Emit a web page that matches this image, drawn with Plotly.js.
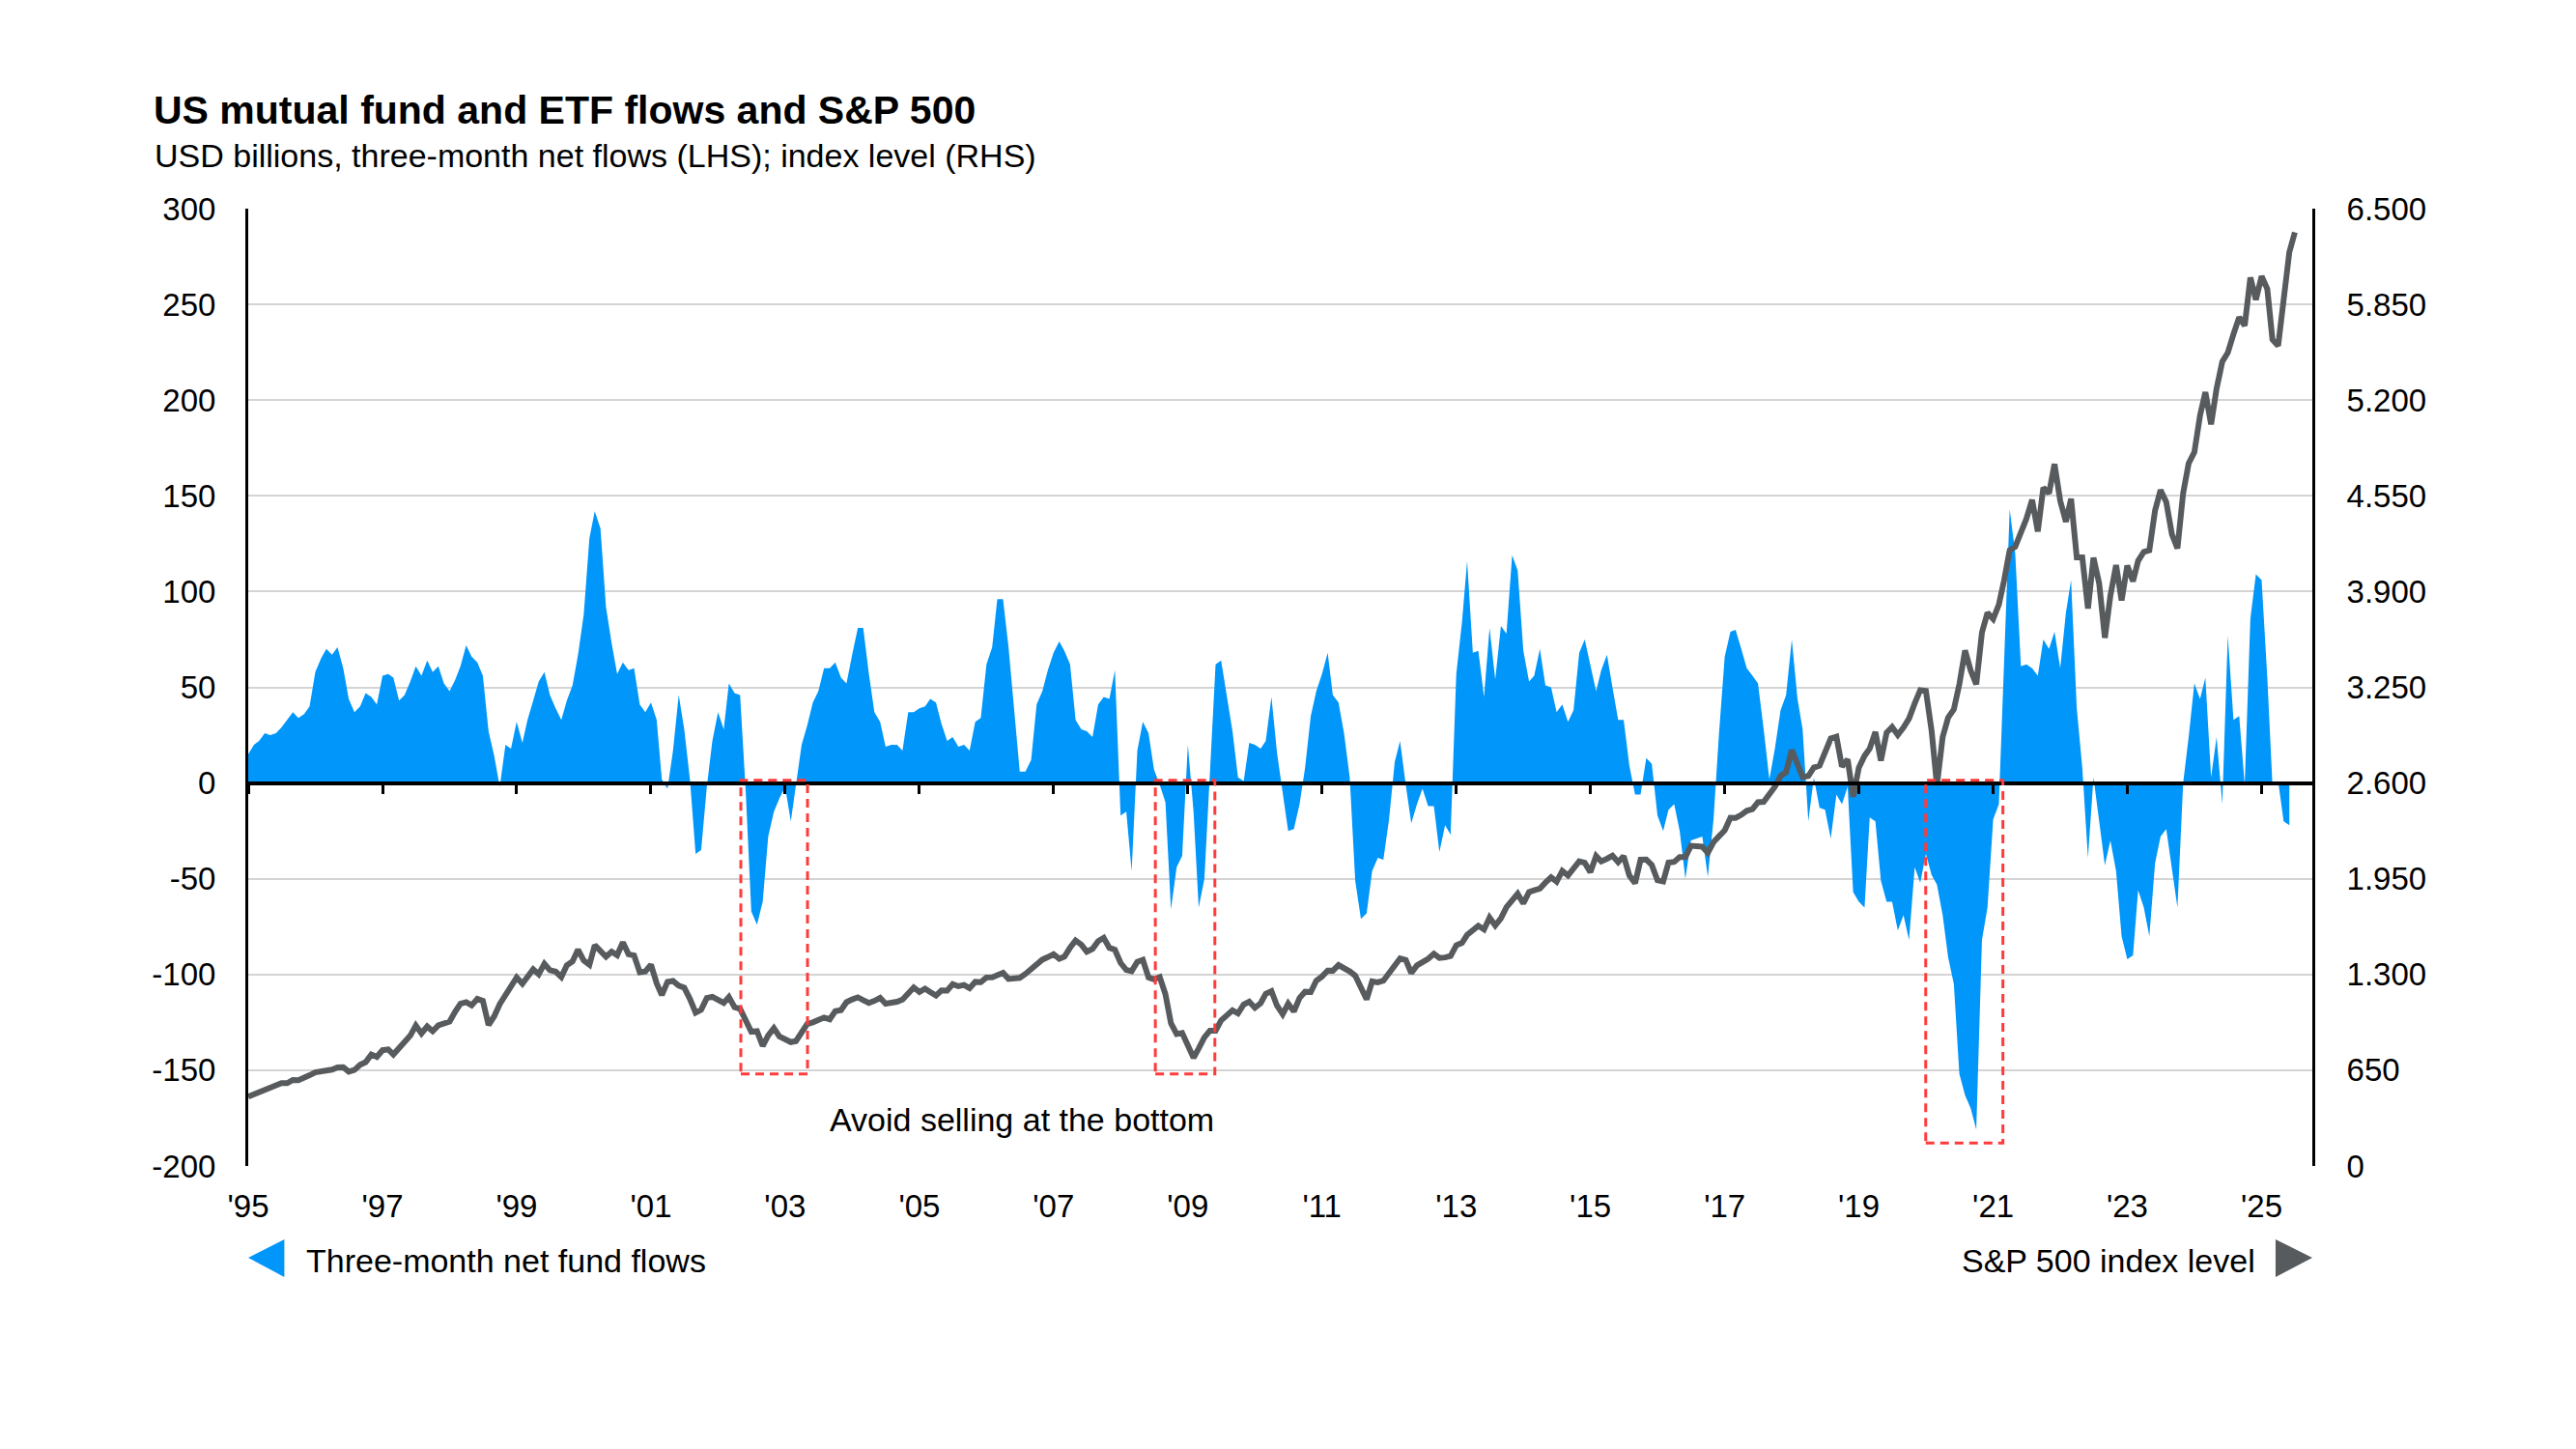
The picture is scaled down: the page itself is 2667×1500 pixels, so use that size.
<!DOCTYPE html>
<html>
<head>
<meta charset="utf-8">
<script src="https://cdn.plot.ly/plotly-3.0.1.min.js"></script>
<style>
  html, body { margin: 0; padding: 0; background: #fff; }
  #chart { width: 2667px; height: 1500px; }
</style>
</head>
<body>
<div id="chart"></div>
<script>
// monthly series, first value = January 1995
const startYear = 1995;

// three-month net fund flows, USD bn (LHS)
const netFlows = [
  15, 20, 22, 26, 25, 26, 29, 33, 37, 34, 36, 40,          // 1995
  58, 65, 70, 67, 71, 60, 44, 37, 40, 47, 45, 41,          // 1996
  56, 57, 55, 43, 46, 53, 61, 56, 64, 58, 61, 52,          // 1997
  48, 54, 61, 72, 66, 63, 56, 27, 14, -2, 20, 18,          // 1998
  32, 21, 33, 43, 53, 58, 46, 39, 33, 43, 51, 67,          // 1999
  88, 128, 142, 133, 92, 73, 57, 63, 59, 60, 41, 37,       // 2000
  42, 33, 2, -3, 17, 46, 28, 2, -37, -35, -2, 22,          // 2001
  37, 28, 52, 47, 46, -5, -67, -74, -62, -28, -15, -8,     // 2002
  -2, -20, -2, 20, 30, 42, 48, 60, 60, 63, 55, 52,         // 2003
  67, 81, 81, 57, 37, 32, 19, 20, 20, 17, 37, 37,          // 2004
  39, 40, 44, 42, 31, 22, 24, 19, 20, 17, 32, 34,          // 2005
  62, 71, 96, 96, 71, 37, 6, 6, 12, 41, 48, 59,            // 2006
  68, 74, 69, 62, 33, 28, 27, 24, 41, 45, 44, 59,          // 2007
  -17, -15, -46, 17, 32, 26, 7, -1, -10, -66, -44, -38,    // 2008
  20, -15, -65, -50, 5, 62, 64, 46, 27, 3, 1, 21,          // 2009
  20, 18, 22, 45, 16, -5, -25, -24, -11, 8, 35, 48,        // 2010
  57, 68, 46, 42, 26, 3, -51, -71, -68, -46, -39, -40,     // 2011
  -19, 11, 22, -1, -21, -11, -3, -12, -12, -36, -22, -27,  // 2012
  57, 84, 116, 68, 69, 45, 81, 54, 82, 78, 119, 111,       // 2013
  69, 53, 56, 70, 51, 50, 37, 41, 32, 38, 68, 75,          // 2014
  62, 48, 59, 67, 50, 33, 33, 9, -6, -6, 13, 10,           // 2015
  -17, -25, -14, -11, -25, -50, -30, -29, -28, -49, -19, 26, // 2016
  66, 79, 80, 70, 60, 56, 52, 28, 2, 18, 38, 46,           // 2017
  75, 44, 28, -20, 3, -13, -14, -29, -6, -11, -2, -57,     // 2018
  -62, -65, -18, -20, -51, -62, -62, -77, -69, -82, -44, -52, // 2019
  -37, -48, -53, -69, -91, -105, -152, -163, -170, -181, -82, -65, // 2020
  -19, -11, 66, 143, 120, 61, 62, 60, 56, 75, 70, 79,      // 2021
  60, 89, 106, 39, 8, -39, 3, -21, -43, -30, -46, -80,     // 2022
  -92, -90, -56, -65, -80, -42, -28, -24, -44, -65, 0, 24, // 2023
  52, 44, 55, 3, 24, -11, 77, 33, 35, -1, 86, 109,         // 2024
  106, 55, -1, 1, -20, -22                                 // 2025
];

// S&P 500 index level, month end (RHS)
const spx = [
  470, 487, 501, 515, 533, 545, 562, 562, 584, 582, 605, 616,           // 1995
  636, 640, 646, 654, 669, 671, 640, 652, 687, 705, 757, 741,           // 1996
  786, 791, 757, 801, 848, 885, 954, 900, 947, 915, 955, 970,           // 1997
  980, 1049, 1102, 1112, 1091, 1134, 1121, 957, 1017, 1099, 1164, 1229, // 1998
  1280, 1238, 1286, 1335, 1302, 1373, 1329, 1320, 1283, 1363, 1389, 1469, // 1999
  1395, 1366, 1499, 1452, 1421, 1455, 1431, 1518, 1437, 1429, 1315, 1320, // 2000
  1366, 1240, 1160, 1250, 1256, 1224, 1211, 1134, 1041, 1060, 1140, 1148, // 2001
  1130, 1107, 1147, 1077, 1067, 990, 912, 916, 815, 886, 936, 880,       // 2002
  856, 841, 848, 917, 964, 975, 990, 1008, 996, 1051, 1058, 1112,       // 2003
  1131, 1145, 1126, 1107, 1121, 1141, 1102, 1104, 1115, 1130, 1174, 1212, // 2004
  1181, 1204, 1181, 1157, 1192, 1191, 1234, 1220, 1229, 1207, 1250, 1248, // 2005
  1280, 1281, 1295, 1311, 1270, 1270, 1277, 1304, 1336, 1378, 1401, 1418, // 2006
  1438, 1407, 1421, 1482, 1531, 1503, 1455, 1474, 1527, 1549, 1481, 1468, // 2007
  1379, 1331, 1323, 1386, 1400, 1280, 1267, 1283, 1166, 969, 896, 903,   // 2008
  826, 735, 798, 873, 919, 919, 988, 1021, 1057, 1036, 1096, 1115,      // 2009
  1074, 1105, 1169, 1187, 1089, 1031, 1102, 1049, 1141, 1183, 1181, 1258, // 2010
  1286, 1327, 1326, 1364, 1345, 1321, 1292, 1219, 1131, 1253, 1247, 1258, // 2011
  1312, 1366, 1409, 1398, 1310, 1362, 1379, 1407, 1441, 1412, 1416, 1426, // 2012
  1498, 1515, 1569, 1598, 1631, 1606, 1686, 1633, 1682, 1757, 1806, 1848, // 2013
  1783, 1860, 1872, 1884, 1924, 1960, 1931, 2003, 1972, 2018, 2068, 2059, // 2014
  1995, 2105, 2068, 2086, 2107, 2063, 2104, 1972, 1920, 2079, 2080, 2044, // 2015
  1940, 1932, 2060, 2065, 2097, 2099, 2174, 2171, 2168, 2126, 2199, 2239, // 2016
  2279, 2364, 2363, 2384, 2412, 2423, 2470, 2472, 2519, 2575, 2648, 2674, // 2017
  2824, 2714, 2641, 2648, 2705, 2718, 2816, 2902, 2914, 2712, 2760, 2507, // 2018
  2704, 2785, 2834, 2946, 2752, 2942, 2980, 2927, 2977, 3038, 3141, 3231, // 2019
  3226, 2954, 2585, 2912, 3044, 3100, 3271, 3500, 3363, 3270, 3622, 3756, // 2020
  3714, 3811, 3973, 4181, 4204, 4298, 4395, 4523, 4308, 4605, 4567, 4766, // 2021
  4516, 4374, 4530, 4132, 4132, 3785, 4130, 3955, 3586, 3872, 4080, 3840, // 2022
  4077, 3970, 4109, 4170, 4180, 4450, 4589, 4508, 4288, 4194, 4568, 4770, // 2023
  4846, 5096, 5254, 5036, 5278, 5461, 5522, 5648, 5763, 5706, 6032, 5882, // 2024
  6041, 5955, 5612, 5569, 5912, 6205, 6339                                // 2025
];

const leftTicks = [-200, -150, -100, -50, 0, 50, 100, 150, 200, 250, 300];
const rightTicks = [0, 650, 1300, 1950, 2600, 3250, 3900, 4550, 5200, 5850, 6500];

// periods of heavy selling, highlighted with dashed boxes
const sellOffs = [
  { from: '2002-05-05', to: '2003-05-03', low: -152 },
  { from: '2008-07-08', to: '2009-05-28', low: -152 },
  { from: '2019-12-31', to: '2021-02-23', low: -188 },
];

const monthDates = (n) => {
  const out = [];
  for (let i = 0; i < n; i++) {
    const y = startYear + Math.floor(i / 12);
    const m = String((i % 12) + 1).padStart(2, '0');
    out.push(`${y}-${m}-01`);
  }
  return out;
};

const font = 'Liberation Sans, Arial, Helvetica, sans-serif';
const blue = '#0096fa';
const grey = '#575b5e';
const xRange = ['1995-01-01', '2025-10-04'];

const traces = [
  {
    x: monthDates(netFlows.length),
    y: netFlows,
    type: 'scatter',
    mode: 'lines',
    fill: 'tozeroy',
    fillcolor: blue,
    line: { width: 0, color: blue },
    name: 'Three-month net fund flows',
    hoverinfo: 'x+y',
  },
  {
    x: monthDates(spx.length),
    y: spx,
    xaxis: 'x2',
    yaxis: 'y2',
    type: 'scatter',
    mode: 'lines',
    line: { width: 6, color: grey },
    name: 'S&P 500 index level',
    hoverinfo: 'x+y',
  },
];

const shapes = sellOffs.map((s) => ({
  type: 'rect',
  xref: 'x',
  yref: 'y',
  x0: s.from,
  x1: s.to,
  y0: s.low,
  y1: 1.5,
  line: { color: '#ff3b3b', width: 3, dash: '9px,6px' },
  fillcolor: 'rgba(0,0,0,0)',
  layer: 'above',
}));

// legend arrows under the plot
shapes.push(
  {
    type: 'path',
    xref: 'paper',
    yref: 'paper',
    path: 'M 0,-0.0959 L 0.0175,-0.0767 L 0.0175,-0.1160 Z',
    fillcolor: blue,
    line: { width: 0 },
  },
  {
    type: 'path',
    xref: 'paper',
    yref: 'paper',
    path: 'M 1,-0.0959 L 0.9822,-0.0767 L 0.9822,-0.1160 Z',
    fillcolor: grey,
    line: { width: 0 },
  }
);

const layout = {
  width: 2667,
  height: 1500,
  autosize: false,
  paper_bgcolor: '#fff',
  plot_bgcolor: '#fff',
  showlegend: false,
  separators: ',.',
  font: { family: font, size: 33, color: '#000' },
  margin: { l: 257, r: 273, t: 216, b: 293, pad: 0 },
  title: {
    text: '<b>US mutual fund and ETF flows and S&P 500</b>',
    font: { family: font, size: 41, color: '#000' },
    xref: 'container',
    yref: 'container',
    x: 159 / 2667,
    xanchor: 'left',
    y: 1 - 114 / 1500,
    yanchor: 'middle',
  },
  xaxis: {
    type: 'date',
    range: xRange,
    tick0: '1995-01-01',
    dtick: 'M24',
    tickformat: "'%y",
    showgrid: false,
    zeroline: false,
    showline: false,
    ticks: '',
    ticklabelstandoff: 19,
    tickfont: { size: 33 },
    fixedrange: true,
  },
  xaxis2: {
    type: 'date',
    overlaying: 'x',
    anchor: 'free',
    position: 0.4,
    range: xRange,
    tick0: '1995-01-01',
    dtick: 'M24',
    showgrid: false,
    zeroline: false,
    showline: true,
    linecolor: '#000',
    linewidth: 4,
    ticks: 'outside',
    ticklen: 9,
    tickwidth: 3,
    tickcolor: '#000',
    showticklabels: false,
    fixedrange: true,
  },
  yaxis: {
    range: [-200, 300],
    tickvals: leftTicks,
    ticktext: leftTicks.map(String),
    showgrid: true,
    gridcolor: '#d4d4d4',
    gridwidth: 2,
    zeroline: false,
    showline: true,
    linecolor: '#000',
    linewidth: 3,
    ticks: '',
    ticklabelstandoff: 24,
    tickfont: { size: 33 },
    fixedrange: true,
  },
  yaxis2: {
    overlaying: 'y',
    side: 'right',
    range: [0, 6500],
    tickvals: rightTicks,
    tickformat: ',d',
    showgrid: false,
    zeroline: false,
    showline: true,
    linecolor: '#000',
    linewidth: 3,
    ticks: '',
    ticklabelstandoff: 26,
    tickfont: { size: 33 },
    fixedrange: true,
  },
  shapes: shapes,
  annotations: [
    {
      text: 'USD billions, three-month net flows (LHS); index level (RHS)',
      xref: 'paper',
      yref: 'paper',
      x: -0.0464,
      y: 1.0555,
      xanchor: 'left',
      yanchor: 'middle',
      showarrow: false,
      font: { family: font, size: 34, color: '#000' },
    },
    {
      text: 'Avoid selling at the bottom',
      xref: 'x',
      yref: 'y',
      x: '2006-07-15',
      y: -176,
      xanchor: 'center',
      yanchor: 'middle',
      showarrow: false,
      font: { family: font, size: 34, color: '#000' },
    },
    {
      text: 'Three-month net fund flows',
      xref: 'paper',
      yref: 'paper',
      x: 0.0272,
      y: -0.0985,
      xanchor: 'left',
      yanchor: 'middle',
      showarrow: false,
      font: { family: font, size: 34, color: '#000' },
    },
    {
      text: 'S&P 500 index level',
      xref: 'paper',
      yref: 'paper',
      x: 0.9733,
      y: -0.0985,
      xanchor: 'right',
      yanchor: 'middle',
      showarrow: false,
      font: { family: font, size: 34, color: '#000' },
    },
  ],
};

Plotly.newPlot('chart', traces, layout, { displayModeBar: false, responsive: false, staticPlot: true });
</script>
</body>
</html>
